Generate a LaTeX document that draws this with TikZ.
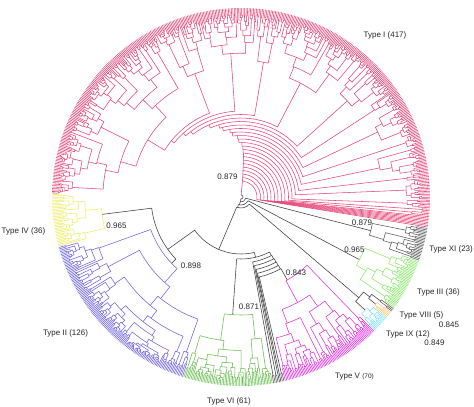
\documentclass[tikz,border=0pt]{standalone}
\usepackage{fontspec}
\setmainfont{Liberation Sans}
\definecolor{cI}{RGB}{230,70,120}
\definecolor{cII}{RGB}{112,100,228}
\definecolor{cIII}{RGB}{140,232,110}
\definecolor{cIV}{RGB}{238,238,100}
\definecolor{cV}{RGB}{228,50,228}
\definecolor{cVI}{RGB}{104,188,78}
\definecolor{cVIII}{RGB}{245,200,120}
\definecolor{cIX}{RGB}{130,225,245}
\definecolor{cXI}{RGB}{90,90,90}
\definecolor{cbb}{RGB}{60,60,60}
\makeatletter
\def\RR{189}
\def\calcR#1#2{%
  \ifnum#1=1 \edef\rc{\RR}\else
    \pgfmathsetmacro\rc{max(#2+0.2*(\RR-#2),\RR-7*(#1)^0.6*(0.6+0.8*rnd))}%
  \fi}
\def\clade#1#2#3#4{%
  \ifnum#3>1 \expandafter\cladeB\else\expandafter\@gobblefour\fi{#1}{#2}{#3}{#4}}
\def\cladeB#1#2#3#4{%
  \pgfmathtruncatemacro\cnm{#3-1}%
  \pgfmathrandominteger\ck{1}{\cnm}%
  \pgfmathtruncatemacro\ck{\ck}%
  \pgfmathtruncatemacro\ckb{#3-\ck}%
  \pgfmathsetmacro\cm{#1+\ck*(#2-#1)/#3}%
  \pgfmathsetmacro\cma{(#1+\cm)/2}%
  \pgfmathsetmacro\cmb{(\cm+#2)/2}%
  \calcR{\ck}{#4}\let\cra\rc
  \calcR{\ckb}{#4}\let\crb\rc
  \draw (\cma:#4) arc[start angle=\cma,end angle=\cmb,radius=#4]
        (\cma:#4)--(\cma:\cra) (\cmb:#4)--(\cmb:\crb);%
  \edef\next{\noexpand\begingroup\noexpand\clade{#1}{\cm}{\ck}{\cra}\noexpand\endgroup
    \noexpand\begingroup\noexpand\clade{\cm}{#2}{\ckb}{\crb}\noexpand\endgroup}%
  \next}
\def\jn#1#2#3#4#5#6{%
  \pgfmathsetmacro\ja{(#1+#2)/2}\pgfmathsetmacro\jb{(#2+#3)/2}%
  \draw (\ja:#4) arc[start angle=\ja,end angle=\jb,radius=#4]
        (\ja:#4)--(\ja:#5) (\jb:#4)--(\jb:#6);}
\makeatother
\begin{document}
\begin{tikzpicture}[x=1pt,y=1pt,line width=0.55pt,
  lbl/.style={font=\fontsize{8}{9}\selectfont, inner sep=0pt, text=black!85}]
\useasboundingbox (0,0) rectangle (474,407);
\fill[white] (0,0) rectangle (474,407);
\pgfmathsetseed{7}
\begin{scope}[shift={(241,210)}]
  % ---------- backbone ----------
  \begin{scope}[color=cbb]
    \draw (-95.178:2) arc[start angle=-95.178,end angle=84.822,radius=2]
          (-95.178:2)--(-95.178:5);
    \jn{-181}{-19.745}{-9.356}{5}{8}{134}
    \jn{-181}{-36.006}{-19.745}{8}{11}{134}
    \jn{-181}{-45.039}{-36.006}{11}{57}{155}
    \jn{-181}{-107.825}{-45.039}{57}{90}{62}
    \jn{-181}{-164.738}{-107.825}{90}{140}{96}
    \jn{-107.825}{-80.272}{-45.039}{62}{118}{66}
    \jn{-45.039}{-39.619}{-36.006}{155}{168}{163}
    \jn{-39.619}{-37.361}{-36.006}{163}{172}{174}
    \jn{-80.272}{-79.369}{-45.039}{66}{181}{70}
    \jn{-79.369}{-78.466}{-45.039}{70}{182}{74}
    \jn{-78.466}{-78.014}{-45.039}{74}{189}{78}
    \jn{-78.014}{-77.562}{-45.039}{78}{189}{82}
    \jn{-77.562}{-76.658}{-45.039}{82}{181}{95}
  \end{scope}
  % ---------- Type I ladder ----------
  \begin{scope}[color=cI]
    \draw (84.822:2)--(84.822:16);
    \xdef\glo{-9.356}\xdef\gr{16}
    \foreach \s in {1,1,1,1,1,1,1,1,3,2,6,14,4,20,8,24,10,30,60,20,40}{%
      \pgfmathsetmacro\lpm{\glo+\s*0.451694}%
      \pgfmathsetmacro\lpa{(\glo+\lpm)/2}%
      \pgfmathsetmacro\lpb{(\lpm+179)/2}%
      \pgfmathsetmacro\rn{\gr+3.5}%
      \calcR{\s}{\gr}%
      \draw (\lpa:\gr) arc[start angle=\lpa,end angle=\lpb,radius=\gr]
            (\lpa:\gr)--(\lpa:\rc) (\lpb:\gr)--(\lpb:\rn);%
      \edef\next{\noexpand\begingroup\noexpand\clade{\glo}{\lpm}{\s}{\rc}\noexpand\endgroup}\next
      \xdef\glo{\lpm}\xdef\gr{\rn}%
    }
    \edef\next{\noexpand\clade{\glo}{179}{168}{\gr}}\next
  \end{scope}
  % ---------- other clades ----------
  \begin{scope}[color=cXI]
    \clade{-19.745}{-9.356}{23}{134}
    \clade{-37.361}{-36.006}{3}{174}
    \clade{-80.272}{-79.369}{2}{181}
    \clade{-79.369}{-78.466}{2}{182}
    \clade{-77.562}{-76.658}{2}{181}
  \end{scope}
  \begin{scope}[color=cIII]\clade{-36.006}{-19.745}{36}{134}\end{scope}
  \begin{scope}[color=cVIII]\clade{-39.619}{-37.361}{5}{172}\end{scope}
  \begin{scope}[color=cIX]\clade{-45.039}{-39.619}{12}{168}\end{scope}
  \begin{scope}[color=cV]\clade{-76.658}{-45.039}{70}{95}\end{scope}
  \begin{scope}[color=cVI]\clade{-107.825}{-80.272}{61}{118}\end{scope}
  \begin{scope}[color=cII]\clade{-164.738}{-107.825}{126}{96}\end{scope}
  \begin{scope}[color=cIV]\clade{-181}{-164.738}{36}{140}\end{scope}
\end{scope}
% ---------- labels ----------
\node[lbl] (b1) at (227.5,230.5) {0.879};
\node[lbl] (b2) at (362,184.5) {0.879};
\node[lbl] (b3) at (354.5,157.5) {0.965};
\node[lbl] (b4) at (116.5,181.5) {0.965};
\node[lbl] (b5) at (191,141.5) {0.898};
\node[lbl] (b6) at (249,100) {0.871};
\node[lbl] (b7) at (296,134) {0.843};
\node[lbl] (b8) at (449,82.5) {0.845};
\node[lbl] (b9) at (434.5,64) {0.849};
\node[lbl] (t1) at (385,371.5) {Type I (417)};
\node[lbl,anchor=west] (t2) at (429,157.5) {Type XI (23)};
\node[lbl] (t3) at (438.5,115) {Type III (36)};
\node[lbl] (t4) at (421.5,91.5) {Type VIII (5)};
\node[lbl] (t5) at (408,72.5) {Type IX (12)};
\node[lbl] (t6) at (354.5,30) {Type V {\fontsize{6.5}{7}\selectfont(70)}};
\node[lbl] (t7) at (229,6) {Type VI (61)};
\node[lbl] (t8) at (65.5,74) {Type II (126)};
\node[lbl] (t9) at (23.5,175.5) {Type IV (36)};
\end{tikzpicture}
\end{document}
